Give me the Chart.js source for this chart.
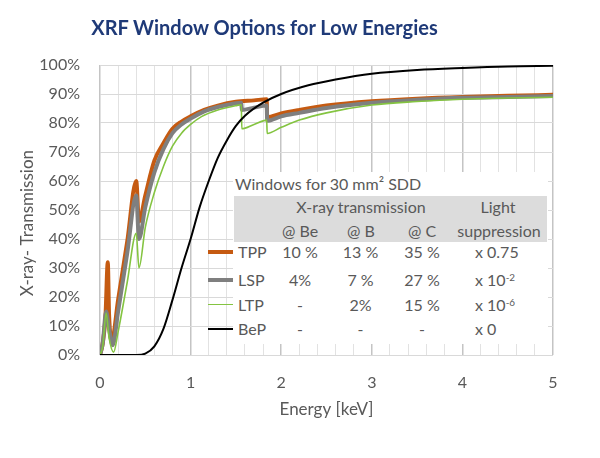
<!DOCTYPE html>
<html>
<head>
<meta charset="utf-8">
<script src="https://cdn.jsdelivr.net/npm/chart.js@4.4.0/dist/chart.umd.min.js"></script>
<style>
  body { margin: 0; background: #fff; }
  #wrap { position: relative; width: 600px; height: 458px; font-family: Lato, sans-serif; color: #595959; }
  #titulo { position: absolute; left: 0; top: 15px; width: 529px; text-align: center;
            font: bold 20px Lato, sans-serif; color: #1f3a78; white-space: nowrap; }
  #caja { position: absolute; left: 233px; top: 172px; width: 315px; height: 172px; background: #fff; }
  #banda { position: absolute; left: 234px; top: 196px; width: 313px; height: 46px; background: #dcdcdc; }
  .t { position: absolute; font-size: 16px; line-height: 1; white-space: nowrap; transform: translateY(-50%); }
  .c { transform: translate(-50%, -50%); }
  .t sup { font-size: 0.62em; vertical-align: 0.55em; line-height: 0; }
  .linea { position: absolute; left: 208px; width: 25px; }
</style>
</head>
<body>
<div id="wrap">
  <canvas id="grafico" width="600" height="458"></canvas>
  <div id="titulo">XRF Window Options for Low Energies</div>
  <div id="caja"></div>
  <div id="banda"></div>
</div>
<script>
// curvas de transmision (energia en keV, transmision en %)
const tppE = [0, 0.03, 0.06, 0.086, 0.1, 0.13, 0.2, 0.3, 0.4, 0.43, 0.5, 0.6, 0.7, 0.8, 0.9, 1.0, 1.15, 1.3, 1.5, 1.7, 1.84, 1.845, 2.0, 2.2, 2.5, 3.0, 3.5, 4.0, 4.5, 5.0]
const tppT = [0, 4, 13, 32, 14, 5, 19, 39, 60, 46, 55, 67, 73, 78, 80.5, 82.3, 84.5, 86, 87.3, 87.8, 88.2, 82, 83.3, 84.5, 86, 87.5, 88.4, 89, 89.4, 89.7]

const lspE = [0, 0.03, 0.068, 0.1, 0.14, 0.2, 0.3, 0.4, 0.43, 0.5, 0.6, 0.7, 0.8, 0.9, 1.0, 1.15, 1.3, 1.5, 1.56, 1.565, 1.7, 1.84, 1.845, 2.0, 2.2, 2.5, 3.0, 3.5, 4.0, 4.5, 5.0]
const lspT = [0, 4, 15, 9, 3.4, 15, 35, 55, 40, 51, 63, 71, 76.5, 79.5, 81.5, 84, 85.5, 86.8, 87, 84.5, 85.3, 86, 80.8, 82.3, 83.5, 85.2, 87, 88, 88.7, 89, 89.3]

const ltpE = [0, 0.03, 0.068, 0.1, 0.15, 0.2, 0.3, 0.4, 0.43, 0.5, 0.6, 0.7, 0.8, 0.9, 1.0, 1.12, 1.3, 1.5, 1.56, 1.565, 1.7, 1.84, 1.845, 2.0, 2.2, 2.5, 3.0, 3.5, 4.0, 4.5, 5.0]
const ltpT = [0, 3, 14.5, 6, 1, 8, 25, 42, 30, 44, 56, 65, 72, 76.5, 79.5, 82.2, 84.5, 86, 86.3, 78, 79.5, 81, 76.4, 78.5, 81, 83.5, 86.2, 87.4, 88.2, 88.6, 88.9]

const bepE = [0, 0.4, 0.5, 0.6, 0.7, 0.8, 0.9, 1.0, 1.1, 1.2, 1.3, 1.4, 1.5, 1.6, 1.8, 2.0, 2.3, 2.6, 3.0, 3.5, 4.0, 4.5, 5.0]
const bepT = [0, 0, 0.5, 3, 9, 19, 30, 40, 51, 60, 68, 74, 79, 82.5, 87, 90, 93, 95, 97, 98.3, 99, 99.5, 99.7]

// tabla de ventanas
const filas = ['TPP', 'LSP', 'LTP', 'BeP']
const transBe = ['10 %', '4%', '-', '-']
const transB = ['13 %', '7 %', '2%', '-']
const transC = ['35 %', '27 %', '15 %', '-']
const supresion = ['x 0.75', 'x 10<sup>-2</sup>', 'x 10<sup>-6</sup>', 'x 0']

const ticksY = [0, 10, 20, 30, 40, 50, 60, 70, 80, 90, 100]

const colores = ['#c55a11', '#7f7f7f', '#84c441', '#000000']
const grosores = [4, 4, 1.6, 2]

const wrap = document.querySelector('#wrap')
const ponerTexto = (html, x, y, centrado) => {
  const d = document.createElement('div')
  d.className = centrado ? 't c' : 't'
  d.innerHTML = html
  d.style.left = x + 'px'
  d.style.top = y + 'px'
  wrap.appendChild(d)
}

ponerTexto('Windows for 30 mm² SDD', 235, 183.5, false)
ponerTexto('X-ray transmission', 361, 207, true)
ponerTexto('Light', 498, 207, true)
ponerTexto('@ Be', 300, 231, true)
ponerTexto('@ B', 361, 231, true)
ponerTexto('@ C', 422, 231, true)
ponerTexto('suppression', 499, 231, true)

const filaY = [252, 280, 304.5, 328.5]
filas.forEach((f, i) => {
  const y = filaY[i]
  const l = document.createElement('div')
  l.className = 'linea'
  l.style.top = (y - grosores[i] / 2) + 'px'
  l.style.height = grosores[i] + 'px'
  l.style.background = colores[i]
  wrap.appendChild(l)
  ponerTexto(f, 238, y, false)
  ponerTexto(transBe[i], 300, y, true)
  ponerTexto(transB[i], 360.5, y, true)
  ponerTexto(transC[i], 422, y, true)
  ponerTexto(supresion[i], 475, y, false)
})

const puntos = (xs, ys) => xs.map((x, i) => ({ x: x, y: ys[i] }))

const serie = (nombre, xs, ys, i) => ({
  label: nombre,
  data: puntos(xs, ys),
  showLine: true,
  borderColor: colores[i],
  backgroundColor: colores[i],
  borderWidth: grosores[i],
  pointRadius: 0,
  cubicInterpolationMode: 'monotone',
  fill: false
})

const ctx = document.getElementById('grafico')
const esEntero = v => Math.abs(v - Math.round(v)) < 1e-6

new Chart(ctx, {
  type: 'scatter',
  data: {
    datasets: [
      serie('BeP', bepE, bepT, 3),
      serie('LTP', ltpE, ltpT, 2),
      serie('LSP', lspE, lspT, 1),
      serie('TPP', tppE, tppT, 0)
    ]
  },
  options: {
    responsive: false,
    animation: false,
    layout: { padding: { top: 65, right: 47, left: 0, bottom: 0 } },
    plugins: {
      legend: { display: false },
      tooltip: { enabled: false }
    },
    scales: {
      x: {
        type: 'linear',
        min: 0,
        max: 5,
        afterFit: s => { s.height = 103 },
        grid: {
          drawTicks: false,
          color: c => (c.tick && esEntero(c.tick.value)) ? '#c4c4c4' : '#e2e2e2',
          lineWidth: c => (c.tick && esEntero(c.tick.value)) ? 1.5 : 1
        },
        border: { display: false },
        ticks: {
          stepSize: 0.2,
          autoSkip: false,
          maxRotation: 0,
          padding: 18,
          color: '#595959',
          font: { family: 'Lato', size: 16 },
          callback: v => esEntero(v) ? String(Math.round(v)) : ''
        },
        title: {
          display: true,
          text: 'Energy [keV]',
          color: '#595959',
          font: { family: 'Lato', size: 17 },
          padding: { top: 0, bottom: 38 }
        }
      },
      y: {
        min: 0,
        max: 100,
        afterFit: s => { s.width = 100 },
        grid: { drawTicks: false, color: '#d9d9d9' },
        border: { display: false },
        afterBuildTicks: s => { s.ticks = ticksY.map(v => ({ value: v })) },
        ticks: {
          padding: 20,
          color: '#595959',
          font: { family: 'Lato', size: 16 },
          callback: v => v + '%'
        },
        title: {
          display: true,
          // espacios al final para bajar un poco el titulo como en la imagen
          text: 'X-ray- Transmission      ',
          color: '#595959',
          font: { family: 'Lato', size: 17 },
          padding: { top: 17, bottom: 0 }
        }
      }
    }
  }
})
</script>
</body>
</html>
